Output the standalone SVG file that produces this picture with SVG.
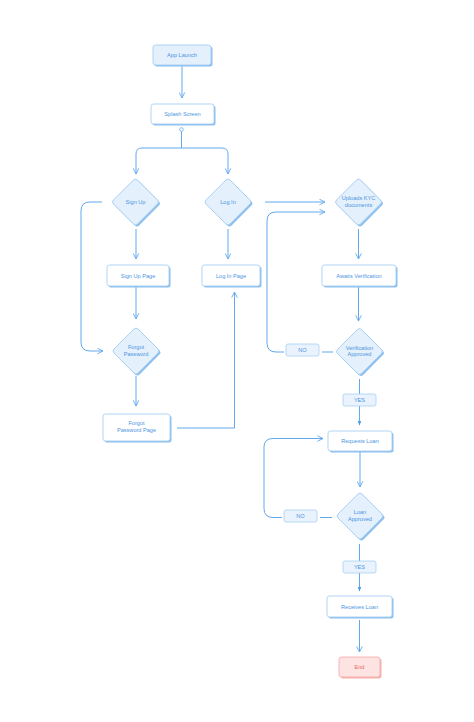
<svg xmlns="http://www.w3.org/2000/svg" width="474" height="722" viewBox="0 0 474 722">
<defs>
<style>
.bx{fill:#ffffff;stroke:#9ccaf2;stroke-width:0.8}
.hl{fill:#e4f0fc;stroke:#9ccaf2;stroke-width:0.8}
.sh{fill:#8fc0ee;stroke:none}
.lb{fill:#eaf3fd;stroke:#a6cff3;stroke-width:0.8}
.end{fill:#fde3e2;stroke:#f2aaa6;stroke-width:0.8}
.endsh{fill:#f5b3ae;stroke:none}
.t{font-family:"Liberation Sans",Arial,sans-serif;font-size:5.6px;fill:#4b95e0;text-anchor:middle}
.te{font-family:"Liberation Sans",Arial,sans-serif;font-size:5.6px;fill:#e66a62;text-anchor:middle}
.c{fill:none;stroke:#62a9ec;stroke-width:1}
</style>
<marker id="ao" viewBox="0 0 10 10" refX="9" refY="5" markerWidth="7" markerHeight="7" orient="auto" markerUnits="userSpaceOnUse">
<path d="M1,1 L9,5 L1,9" fill="none" stroke="#62a9ec" stroke-width="1.3"/>
</marker>
<marker id="af" viewBox="0 0 10 10" refX="9" refY="5" markerWidth="5" markerHeight="5" orient="auto" markerUnits="userSpaceOnUse">
<path d="M0,1 L10,5 L0,9 Z" fill="#4f9be6"/>
</marker>
</defs>
<rect width="474" height="722" fill="#ffffff"/>

<g id="connectors">
<path class="c" d="M182,65 V98" marker-end="url(#ao)"/>
<circle cx="181.5" cy="129.5" r="1.8" fill="#fff" stroke="#62a9ec" stroke-width="0.8"/>
<path class="c" d="M181.5,131.3 V148"/>
<path class="c" d="M181.5,148 H142 Q136,148 136,154 V174" marker-end="url(#ao)"/>
<path class="c" d="M181.5,148 H222 Q228,148 228,154 V174" marker-end="url(#ao)"/>
<path class="c" d="M136,229 V259" marker-end="url(#ao)"/>
<path class="c" d="M228,229 V259" marker-end="url(#ao)"/>
<path class="c" d="M102,202 H90 Q81,202 81,211 V342 Q81,351 90,351 H103" marker-end="url(#ao)"/>
<path class="c" d="M136,286 V319" marker-end="url(#ao)"/>
<path class="c" d="M136,376 V406" marker-end="url(#ao)"/>
<path class="c" d="M177,428 H234.5 V292" marker-end="url(#ao)"/>
<path class="c" d="M265,202 H325" marker-end="url(#ao)"/>
<path class="c" d="M284,352 H276 Q267,352 267,343 V221 Q267,212 276,212 H325" marker-end="url(#ao)"/>
<path class="c" d="M358.5,229 V259" marker-end="url(#ao)"/>
<path class="c" d="M358.5,286 V321" marker-end="url(#ao)"/>
<path class="c" d="M322,352 H333"/>
<path class="c" d="M359.5,379 V394"/>
<path class="c" d="M359.5,406 V425" marker-end="url(#af)"/>
<path class="c" d="M360,451 V487" marker-end="url(#ao)"/>
<path class="c" d="M282,517.5 H273 Q264,517.5 264,508.5 V447 Q264,438.5 273,438.5 H323" marker-end="url(#ao)"/>
<path class="c" d="M320,517.5 H332"/>
<path class="c" d="M359.5,544 V561"/>
<path class="c" d="M359.5,572 V591" marker-end="url(#af)"/>
<path class="c" d="M359.5,620 V652" marker-end="url(#ao)"/>
</g>

<g id="app-launch">
<rect class="sh" x="154.5" y="46.5" width="58" height="20" rx="2.5"/>
<rect class="hl" x="153" y="45" width="58" height="20" rx="2.5"/>
<text class="t" x="182" y="57">App Launch</text>
</g>
<g id="splash-screen">
<rect class="sh" x="152.5" y="105.5" width="63" height="20" rx="2.5"/>
<rect class="bx" x="151" y="104" width="63" height="20" rx="2.5"/>
<text class="t" x="182.5" y="116">Splash Screen</text>
</g>
<g id="sign-up">
<rect class="sh" x="-17" y="-17" width="34" height="34" rx="3" transform="translate(137,203.5) rotate(45)"/>
<rect class="hl" x="-17" y="-17" width="34" height="34" rx="3" transform="translate(135.5,202) rotate(45)"/>
<text class="t" x="135.5" y="204">Sign Up</text>
</g>
<g id="log-in">
<rect class="sh" x="-17" y="-17" width="34" height="34" rx="3" transform="translate(229.5,203.5) rotate(45)"/>
<rect class="hl" x="-17" y="-17" width="34" height="34" rx="3" transform="translate(228,202) rotate(45)"/>
<text class="t" x="228" y="204">Log In</text>
</g>
<g id="sign-up-page">
<rect class="sh" x="108.5" y="266.5" width="62" height="21" rx="2.5"/>
<rect class="bx" x="107" y="265" width="62" height="21" rx="2.5"/>
<text class="t" x="138" y="277.5">Sign Up Page</text>
</g>
<g id="log-in-page">
<rect class="sh" x="203.5" y="266.5" width="58" height="21" rx="2.5"/>
<rect class="bx" x="202" y="265" width="58" height="21" rx="2.5"/>
<text class="t" x="231" y="277.5">Log In Page</text>
</g>
<g id="forgot-password">
<rect class="sh" x="-17" y="-17" width="34" height="34" rx="3" transform="translate(137.5,352.5) rotate(45)"/>
<rect class="hl" x="-17" y="-17" width="34" height="34" rx="3" transform="translate(136,351) rotate(45)"/>
<text class="t" x="136" y="349">Forgot</text>
<text class="t" x="136" y="355.5">Password</text>
</g>
<g id="forgot-password-page">
<rect class="sh" x="104.5" y="415.5" width="67" height="27" rx="2.5"/>
<rect class="bx" x="103" y="414" width="67" height="27" rx="2.5"/>
<text class="t" x="136.5" y="425">Forgot</text>
<text class="t" x="136.5" y="432">Password Page</text>
</g>
<g id="uploads-kyc">
<rect class="sh" x="-17" y="-17" width="34" height="34" rx="3" transform="translate(360,203.5) rotate(45)"/>
<rect class="hl" x="-17" y="-17" width="34" height="34" rx="3" transform="translate(358.5,202) rotate(45)"/>
<text class="t" x="358.5" y="200">Uploads KYC</text>
<text class="t" x="358.5" y="206.5">documents</text>
</g>
<g id="awaits-verification">
<rect class="sh" x="323.5" y="266.5" width="74" height="21" rx="2.5"/>
<rect class="bx" x="322" y="265" width="74" height="21" rx="2.5"/>
<text class="t" x="359" y="277.5">Awaits Verification</text>
</g>
<g id="verification-approved">
<rect class="sh" x="-17" y="-17" width="34" height="34" rx="3" transform="translate(361,353) rotate(45)"/>
<rect class="hl" x="-17" y="-17" width="34" height="34" rx="3" transform="translate(359.5,351.5) rotate(45)"/>
<text class="t" x="359.5" y="349.5">Verification</text>
<text class="t" x="359.5" y="356">Approved</text>
</g>
<g id="no-1">
<rect class="lb" x="286" y="344" width="33" height="12" rx="2"/>
<text class="t" x="302.5" y="352">NO</text>
</g>
<g id="yes-1">
<rect class="lb" x="343" y="394" width="33" height="12" rx="2"/>
<text class="t" x="359.5" y="402">YES</text>
</g>
<g id="requests-loan">
<rect class="sh" x="329.5" y="432.5" width="64" height="20" rx="2.5"/>
<rect class="bx" x="328" y="431" width="64" height="20" rx="2.5"/>
<text class="t" x="360" y="443">Requests Loan</text>
</g>
<g id="loan-approved">
<rect class="sh" x="-17" y="-17" width="34" height="34" rx="3" transform="translate(361.5,517.5) rotate(45)"/>
<rect class="hl" x="-17" y="-17" width="34" height="34" rx="3" transform="translate(360,516) rotate(45)"/>
<text class="t" x="360" y="514">Loan</text>
<text class="t" x="360" y="520.5">Approved</text>
</g>
<g id="no-2">
<rect class="lb" x="284" y="510" width="33" height="12" rx="2"/>
<text class="t" x="300.5" y="518">NO</text>
</g>
<g id="yes-2">
<rect class="lb" x="343" y="561" width="33" height="12" rx="2"/>
<text class="t" x="359.5" y="569">YES</text>
</g>
<g id="receives-loan">
<rect class="sh" x="328.5" y="597.5" width="65" height="21" rx="2.5"/>
<rect class="bx" x="327" y="596" width="65" height="21" rx="2.5"/>
<text class="t" x="359.5" y="608.5">Receives Loan</text>
</g>
<g id="end">
<rect class="endsh" x="340.5" y="658.5" width="41" height="20" rx="2.5"/>
<rect class="end" x="339" y="657" width="41" height="20" rx="2.5"/>
<text class="te" x="359.5" y="669">End</text>
</g>
</svg>
